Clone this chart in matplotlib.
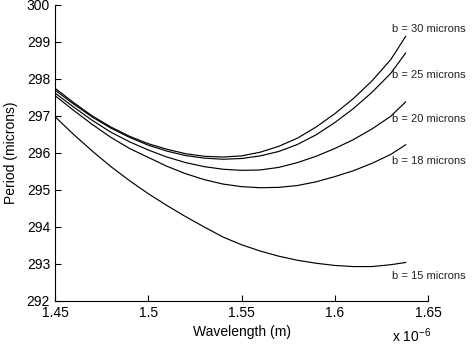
import matplotlib
matplotlib.use('Agg')
import matplotlib.pyplot as plt

plt.rcParams['font.family'] = ['Liberation Sans', 'DejaVu Sans']
plt.rcParams['mathtext.fontset'] = 'custom'
plt.rcParams['mathtext.rm'] = 'Liberation Sans'

# wavelength in units of 1e-6 m
wavelength = [1.45, 1.46, 1.47, 1.48, 1.49, 1.50, 1.51, 1.52, 1.53, 1.54,
              1.55, 1.56, 1.57, 1.58, 1.59, 1.60, 1.61, 1.62, 1.63, 1.638]

# period (microns) for each b
b30 = [297.75, 297.36, 297.00, 296.70, 296.45, 296.25, 296.10, 295.98, 295.91, 295.89,
       295.92, 296.02, 296.18, 296.40, 296.70, 297.06, 297.47, 297.95, 298.52, 299.15]
b25 = [297.70, 297.32, 296.97, 296.67, 296.42, 296.21, 296.05, 295.93, 295.86, 295.83,
       295.85, 295.92, 296.04, 296.23, 296.49, 296.82, 297.20, 297.64, 298.15, 298.70]
b20 = [297.62, 297.24, 296.88, 296.56, 296.30, 296.08, 295.89, 295.74, 295.63, 295.56,
       295.53, 295.54, 295.61, 295.74, 295.91, 296.12, 296.36, 296.65, 296.99, 297.38]
b18 = [297.55, 297.15, 296.77, 296.42, 296.12, 295.88, 295.64, 295.44, 295.28, 295.16,
       295.09, 295.06, 295.07, 295.12, 295.22, 295.36, 295.52, 295.72, 295.96, 296.22]
b15 = [296.98, 296.50, 296.05, 295.63, 295.25, 294.90, 294.58, 294.28, 294.00, 293.73,
       293.52, 293.35, 293.21, 293.10, 293.02, 292.96, 292.93, 292.93, 292.98, 293.04]

curves = [b30, b25, b20, b18, b15]
labels = ['b = 30 microns', 'b = 25 microns', 'b = 20 microns', 'b = 18 microns', 'b = 15 microns']
label_y = [299.35, 298.11, 296.92, 295.78, 292.68]

xticks = [1.45, 1.5, 1.55, 1.6, 1.65]
xticklabels = ['1.45', '1.5', '1.55', '1.6', '1.65']
yticks = [292, 293, 294, 295, 296, 297, 298, 299, 300]

fig = plt.figure(figsize=(4.74, 3.51), dpi=100)
ax = fig.add_axes([0.116, 0.1425, 0.787, 0.8435])

for vals in curves:
    ax.plot(wavelength, vals, color='black', linewidth=0.85)

for lab, yy in zip(labels, label_y):
    ax.text(1.6305, yy, lab, fontsize=8, va='center', ha='left', color='#222222')

ax.set_xlim(1.45, 1.65)
ax.set_ylim(292, 300)
ax.set_xticks(xticks)
ax.set_xticklabels(xticklabels)
ax.set_yticks(yticks)
ax.tick_params(direction='in', length=4, width=0.8, labelsize=10, colors='black')
ax.spines['top'].set_visible(False)
ax.spines['right'].set_visible(False)
ax.spines['left'].set_linewidth(0.8)
ax.spines['bottom'].set_linewidth(0.8)

ax.set_xlabel('Wavelength (m)', fontsize=10, labelpad=4)
ax.set_ylabel('Period (microns)', fontsize=10, labelpad=6)
fig.text(0.828, 0.045, r'x 10$^{-6}$', fontsize=10, va='center', ha='left')

fig.savefig('out.png', dpi=100)
